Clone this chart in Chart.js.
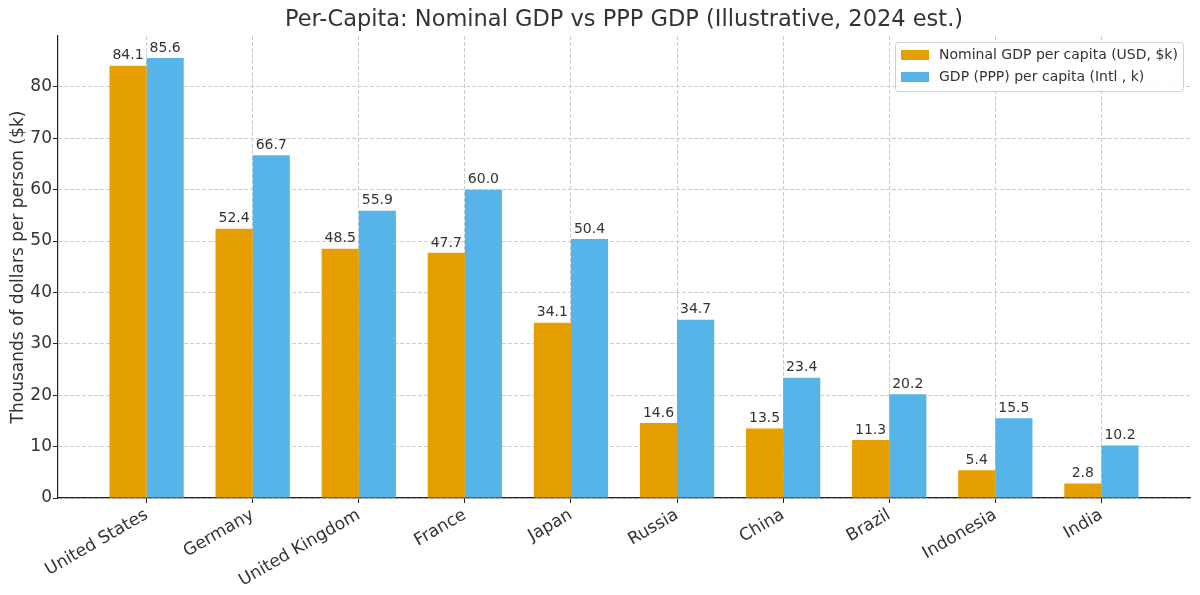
<!DOCTYPE html>
<html>
<head>
<meta charset="utf-8">
<script src="https://cdn.jsdelivr.net/npm/chart.js@4"></script>
<style>
  html, body { margin: 0; padding: 0; background: #fff; }
  #wrap { width: 1200px; height: 595px; }
</style>
</head>
<body>
<div id="wrap"><canvas id="gdpChart" width="1200" height="595"></canvas></div>
<script>
const countries = ['United States', 'Germany', 'United Kingdom', 'France', 'Japan',
                   'Russia', 'China', 'Brazil', 'Indonesia', 'India'];
const nominalGdp = [84.1, 52.4, 48.5, 47.7, 34.1, 14.6, 13.5, 11.3, 5.4, 2.8];
const pppGdp = [85.6, 66.7, 55.9, 60.0, 50.4, 34.7, 23.4, 20.2, 15.5, 10.2];
const yTicks = [0, 10, 20, 30, 40, 50, 60, 70, 80];
const seriesNames = ['Nominal GDP per capita (USD, $k)', 'GDP (PPP) per capita (Intl , k)'];
const chartTitle = 'Per-Capita: Nominal GDP vs PPP GDP (Illustrative, 2024 est.)';

const FONT = "'DejaVu Sans', sans-serif";
const TEXT = '#333333';
const ORANGE = '#E69F00';
const BLUE = '#56B4E9';

// title centred over the plot area (like matplotlib), not the whole canvas
const axesTitle = {
    id: 'axesTitle',
    afterDraw(chart) {
        const ctx = chart.ctx;
        const area = chart.chartArea;
        ctx.save();
        ctx.font = '22.5px ' + FONT;
        ctx.fillStyle = TEXT;
        ctx.textAlign = 'center';
        ctx.textBaseline = 'middle';
        ctx.fillText(chartTitle, (area.left + area.right) / 2, 20);
        ctx.restore();
    }
};

// value labels above each bar
const barLabels = {
    id: 'barLabels',
    afterDatasetsDraw(chart) {
        const ctx = chart.ctx;
        ctx.save();
        ctx.font = '14px ' + FONT;
        ctx.fillStyle = TEXT;
        ctx.textAlign = 'center';
        ctx.textBaseline = 'bottom';
        chart.data.datasets.forEach((ds, i) => {
            chart.getDatasetMeta(i).data.forEach((bar, j) => {
                ctx.fillText(ds.data[j].y.toFixed(1), bar.x, bar.y - 3);
            });
        });
        ctx.restore();
    }
};

// matplotlib-like legend box in the top right corner
const boxLegend = {
    id: 'boxLegend',
    afterDraw(chart) {
        const ctx = chart.ctx;
        const area = chart.chartArea;
        const w = 288, h = 49;
        const x = area.right - w - 7, y = area.top + 6;
        ctx.save();
        ctx.fillStyle = 'rgba(255,255,255,0.85)';
        ctx.strokeStyle = '#d0d0d0';
        ctx.lineWidth = 1;
        ctx.beginPath();
        ctx.roundRect(x + 0.5, y + 0.5, w, h, 3);
        ctx.fill();
        ctx.stroke();
        ctx.font = '14px ' + FONT;
        ctx.textBaseline = 'middle';
        const colors = [ORANGE, BLUE];
        seriesNames.forEach((name, i) => {
            const cy = y + 13 + i * 22;
            ctx.fillStyle = colors[i];
            ctx.fillRect(x + 6, cy - 5, 28, 10);
            ctx.fillStyle = TEXT;
            ctx.fillText(name, x + 44, cy);
        });
        ctx.restore();
    }
};

const ctx = document.getElementById('gdpChart');

new Chart(ctx, {
    type: 'bar',
    data: {
        datasets: [
            {
                label: seriesNames[0],
                data: nominalGdp.map((v, i) => ({ x: i, y: v })),
                backgroundColor: ORANGE,
            },
            {
                label: seriesNames[1],
                data: pppGdp.map((v, i) => ({ x: i, y: v })),
                backgroundColor: BLUE,
            },
        ],
    },
    options: {
        responsive: false,
        animation: false,
        devicePixelRatio: 1,
        layout: { padding: { left: 8, right: 10, top: 36, bottom: 0 } },
        datasets: { bar: { categoryPercentage: 0.7, barPercentage: 1.0 } },
        plugins: {
            legend: { display: false },
            tooltip: { enabled: false },
            title: { display: false },
        },
        scales: {
            x: {
                type: 'linear',
                offset: false,
                min: -0.835,
                max: 9.835,
                afterBuildTicks: (scale) => { scale.ticks = countries.map((c, i) => ({ value: i })); },
                afterFit: (scale) => { scale.height = 97; },
                ticks: {
                    autoSkip: false,
                    minRotation: 30,
                    maxRotation: 30,
                    padding: 2,
                    color: TEXT,
                    font: { family: FONT, size: 17 },
                    callback: (v) => countries[v] ?? '',
                },
                grid: { offset: false, color: '#cccccc', tickColor: '#222', tickLength: 5, lineWidth: 1 },
                border: { color: '#222', width: 1.2, dash: [4, 2] },
            },
            y: {
                min: 0,
                max: 89.9,
                afterBuildTicks: (scale) => { scale.ticks = yTicks.map(v => ({ value: v })); },
                afterFit: (scale) => { scale.width = 50; },
                ticks: {
                    padding: 1,
                    color: TEXT,
                    font: { family: FONT, size: 17 },
                },
                title: {
                    display: true,
                    text: 'Thousands of dollars per person ($k)',
                    color: TEXT,
                    font: { family: FONT, size: 17 },
                    padding: { top: 0, bottom: 2 },
                },
                grid: { color: '#cccccc', tickColor: '#222', tickLength: 5, lineWidth: 1 },
                border: { color: '#222', width: 1.2, dash: [4, 2] },
            },
        },
    },
    plugins: [axesTitle, barLabels, boxLegend],
});
</script>
</body>
</html>
